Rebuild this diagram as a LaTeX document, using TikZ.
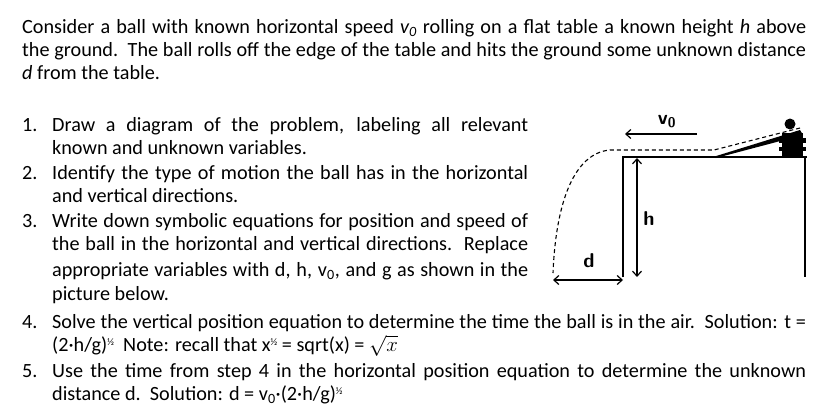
\documentclass[tikz,border=0pt]{standalone}
\usepackage{fontspec}
\setmainfont{Carlito}
\usetikzlibrary{arrows.meta}
\newcommand{\half}{\raisebox{0.55ex}{\fontsize{10}{10}\selectfont ½}}
\newcommand{\vo}{v\textsubscript{0}}
\begin{document}
\begin{tikzpicture}[x=1pt,y=-1pt,
  txt/.style={anchor=base west,inner sep=0pt,font=\fontsize{20.2}{22}\selectfont},
  frame/.style={line width=2.6pt},
  arr/.style={line width=1.2pt,-{Straight Barb[length=5pt,width=9pt]}},
  darr/.style={line width=1.2pt,{Straight Barb[length=5pt,width=9pt]}-{Straight Barb[length=5pt,width=9pt]}},
  lbl/.style={font=\fontsize{20}{20}\sffamily\bfseries\selectfont,inner sep=0pt}]
\useasboundingbox (0,0) rectangle (838,413);
% paragraph
\node[txt] (p1) at (22,33) {\makebox[784pt][s]{Consider a ball with known horizontal speed \textit{v\textsubscript{0}} rolling on a flat table a known height \textit{h} above}};
\node[txt] (p2) at (22,56) {\makebox[784pt][s]{the ground.\ \ The ball rolls off the edge of the table and hits the ground some unknown distance}};
\node[txt] (p3) at (22,79) {\textit{d} from the table.};
% list
\node[txt] (n1) at (22,131) {1.};
\node[txt] (l1a) at (52,131) {\makebox[476pt][s]{Draw a diagram of the problem, labeling all relevant}};
\node[txt] (l1b) at (52,154) {known and unknown variables.};
\node[txt] (n2) at (22,179) {2.};
\node[txt] (l2a) at (52,179) {\makebox[476pt][s]{Identify the type of motion the ball has in the horizontal}};
\node[txt] (l2b) at (52,202) {and vertical directions.};
\node[txt] (n3) at (22,227) {3.};
\node[txt] (l3a) at (52,227) {\makebox[476pt][s]{Write down symbolic equations for position and speed of}};
\node[txt] (l3b) at (52,250) {\makebox[476pt][s]{the ball in the horizontal and vertical directions.\ \ Replace}};
\node[txt] (l3c) at (52,276) {\makebox[476pt][s]{appropriate variables with d, h, \vo, and g as shown in the}};
\node[txt] (l3d) at (52,300) {picture below.};
\node[txt] (n4) at (22,328) {4.};
\node[txt] (l4a) at (52,328) {\makebox[754pt][s]{Solve the vertical position equation to determine the time the ball is in the air.\ \ Solution: t =}};
\node[txt] (l4b) at (52,351) {(2·h/g)\half\ \ Note: recall that x\half\ = sqrt(x) = $\sqrt{x}$};
\node[txt] (n5) at (22,377) {5.};
\node[txt] (l5a) at (52,377) {\makebox[754pt][s]{Use the time from step 4 in the horizontal position equation to determine the unknown}};
\node[txt] (l5b) at (52,400) {distance d.\ \ Solution: d = \vo·(2·h/g)\half};
% diagram
\draw[frame] (623,277) -- (623,157) -- (807,157);
\draw[frame] (805,157) -- (805,277);
\fill (713,157) -- (800,130) -- (803,135) -- (716,158) -- cycle;
\fill (782,133) rectangle (803,156);
\fill (779,138) rectangle (806,143);
\fill (779,147) rectangle (806,151);
\fill (790,124) circle (5.5pt);
\draw[line width=1.1pt,dash pattern=on 4pt off 3pt] (800,128) -- (714,150) -- (610,150)
  .. controls (575,153) and (556,200) .. (553,273);
\coordinate (va) at (697,134);
\coordinate (vb) at (625,134);
\draw[arr] (va) -- (vb);
\node[lbl] (v0) at (667,122) {v\textsubscript{\fontsize{14}{14}\selectfont 0}};
\coordinate (ht) at (637,158);
\coordinate (hb) at (637,277);
\draw[darr] (ht) -- (hb);
\node[lbl] (h) at (649,219) {h};
\coordinate (dl) at (553,280);
\coordinate (dr) at (623,280);
\draw[darr] (dl) -- (dr);
\node[lbl] (d) at (589,261) {d};
\end{tikzpicture}
\end{document}
